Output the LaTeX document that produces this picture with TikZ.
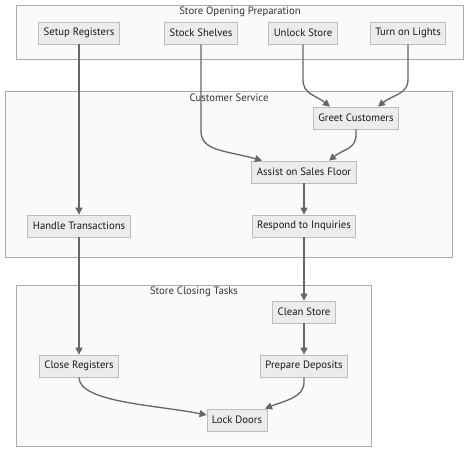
\documentclass[tikz,border=0pt]{standalone}
\usepackage{fontspec}
\setmainfont{PT Sans}
\usetikzlibrary{arrows.meta}

\definecolor{taskfill}{HTML}{ECECEC}
\definecolor{taskline}{HTML}{BDBDBD}
\definecolor{groupfill}{HTML}{FAFAFA}
\definecolor{groupline}{HTML}{ABABAB}
\definecolor{flowline}{HTML}{666666}

\tikzset{
  task/.style={draw=taskline,fill=taskfill,line width=0.8pt,minimum height=22pt,
    inner xsep=5pt,font=\fontsize{10.7}{12}\selectfont,text=black!90},
  group/.style={draw=groupline,fill=groupfill,line width=0.8pt},
  grouptitle/.style={font=\fontsize{10.7}{12}\selectfont,text=black!80},
  flow/.style={draw=flowline,line width=1.3pt,-{Triangle[length=7pt,width=7pt]}}
}

\begin{document}
\begin{tikzpicture}[x=1pt,y=-1pt]
    \useasboundingbox (0,0) rectangle (474,452);

    % clusters
    \draw[group] (16,5) rectangle (463,59);
    \node[grouptitle] (open) at (240,12) {Store Opening Preparation};
    \draw[group] (5,91) rectangle (452,257);
    \node[grouptitle] (service) at (229,98) {Customer Service};
    \draw[group] (16,285) rectangle (371,446);
    \node[grouptitle] (closing) at (194,292) {Store Closing Tasks};

    % tasks
    \node[task] (sr) at (79,33) {Setup Registers};
    \node[task] (ss) at (201,33) {Stock Shelves};
    \node[task] (us) at (303,33) {Unlock Store};
    \node[task] (tl) at (408,33) {Turn on Lights};
    \node[task] (gc) at (356,118) {Greet Customers};
    \node[task] (as) at (304,172) {Assist on Sales Floor};
    \node[task] (ht) at (79,226) {Handle Transactions};
    \node[task] (ri) at (304,226) {Respond to Inquiries};
    \node[task] (cs) at (304,312) {Clean Store};
    \node[task] (cr) at (79,366) {Close Registers};
    \node[task] (pd) at (304,366) {Prepare Deposits};
    \node[task] (ld) at (237,420) {Lock Doors};

    % flows
    \draw[flow] (sr.south) -- (ht.north);
    \draw[flow] (ss.south) -- ++(0,87) .. controls +(0,20) and +(-35,-10) .. ([xshift=-42pt]as.north);
    \draw[flow] (us.south) -- ++(0,35) .. controls +(0,15) and +(-15,-12) .. ([xshift=-26pt]gc.north);
    \draw[flow] (tl.south) -- ++(0,35) .. controls +(0,15) and +(15,-12) .. ([xshift=22pt]gc.north);
    \draw[flow] (gc.south) -- ++(0,5) .. controls +(0,15) and +(15,-12) .. ([xshift=25pt]as.north);
    \draw[flow] (as.south) -- (ri.north);
    \draw[flow] (ht.south) -- (cr.north);
    \draw[flow] (ri.south) -- (cs.north);
    \draw[flow] (cs.south) -- (pd.north);
    \draw[flow] (cr.south) .. controls +(0,25) and +(-50,-10) .. ([yshift=5pt]ld.west);
    \draw[flow] (pd.south) -- ++(0,5) .. controls +(0,15) and +(20,-8) .. ([xshift=28pt]ld.north);
  \end{tikzpicture}
\end{document}
